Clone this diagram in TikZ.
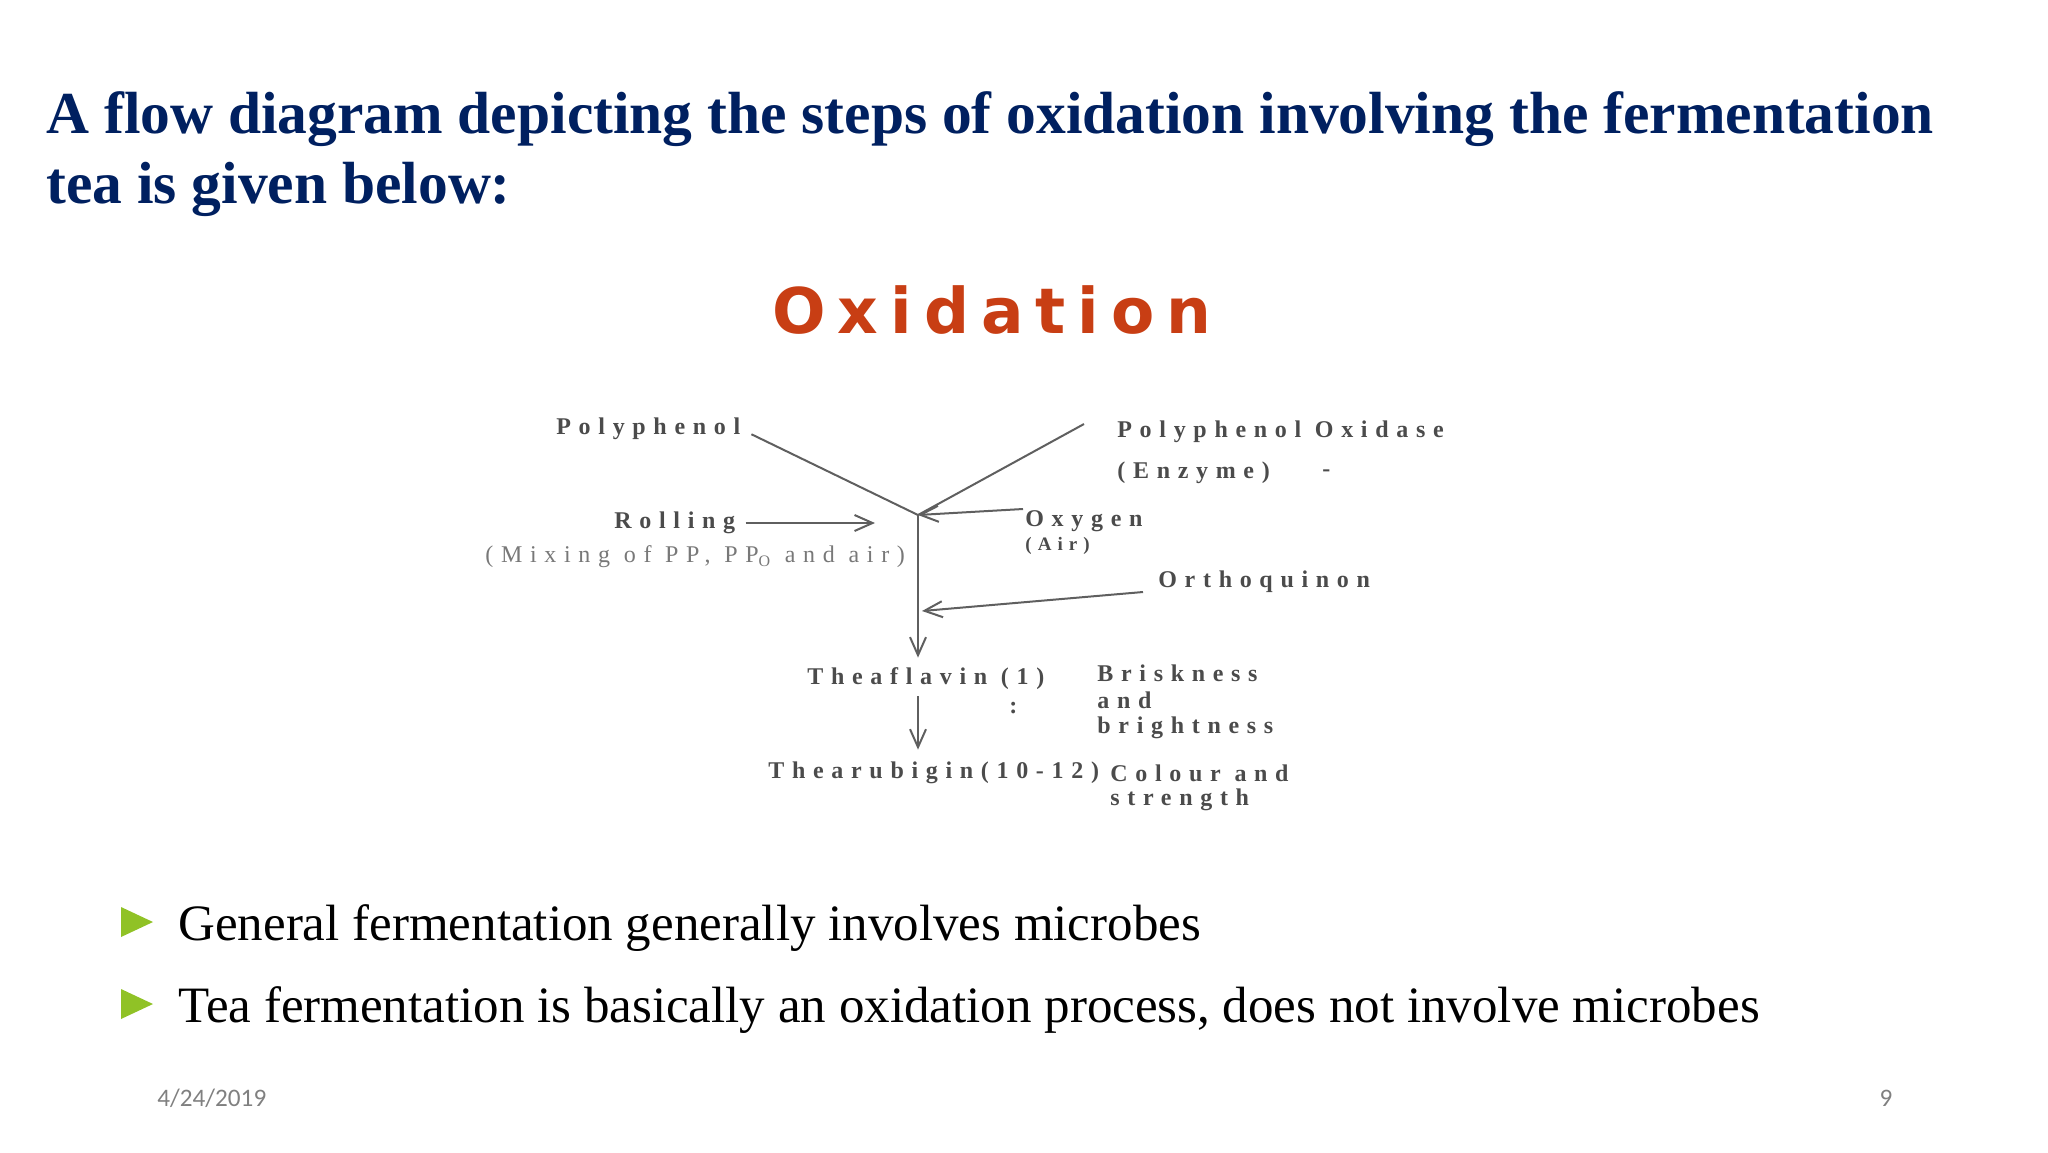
\documentclass[tikz,border=0pt]{standalone}
\usepackage{fontspec}
\setmainfont{Liberation Serif}
\newfontfamily\diagfont[LetterSpace=32]{Liberation Serif}
\newfontfamily\oxfont[LetterSpace=19]{DejaVu Sans}
\newfontfamily\footfont{Carlito}
\usetikzlibrary{arrows.meta,calc}

\definecolor{titleblue}{RGB}{0,32,96}
\definecolor{oxred}{RGB}{200,62,20}
\definecolor{inkgray}{RGB}{75,75,75}
\definecolor{linegray}{RGB}{95,95,95}
\definecolor{bulletgreen}{RGB}{144,194,38}
\definecolor{footgray}{RGB}{128,128,128}

\tikzset{
  lbl/.style={anchor=west, inner sep=0pt, text=inkgray, font=\diagfont\fontsize{12}{14}\bfseries},
  sublbl/.style={anchor=west, inner sep=0pt, text=inkgray!75, font=\diagfont\fontsize{12}{14}\selectfont},
  link/.style={draw=linegray, line width=1pt},
  arr/.style={link, -{Straight Barb[length=9pt,width=8pt]}},
  headline/.style={anchor=base west, inner sep=0pt, text=titleblue, font=\fontsize{29.75}{35}\bfseries},
  bullettxt/.style={anchor=base west, inner sep=0pt, font=\fontsize{25.5}{30}\selectfont},
  foot/.style={inner sep=0pt, text=footgray, font=\footfont\fontsize{12.6}{15}\selectfont},
}

\begin{document}
\begin{tikzpicture}[x=0.5pt, y=-0.5pt]
    \useasboundingbox (0,0) rectangle (2048,1152);

    % heading
    \node[headline] (title1) at (46,133) {A flow diagram depicting the steps of oxidation involving the fermentation};
    \node[headline] (title2) at (46,203) {tea is given below:};

    \node[anchor=base, inner sep=0pt, text=oxred, font=\oxfont\fontsize{31.5}{36}\bfseries] (oxi) at (992,333) {Oxidation};

    % labels
    \node[lbl] (poly) at (556,429) {Polyphenol};
    \node[lbl] (ppo) at (1117,432) {Polyphenol Oxidase};
    \node[lbl] (enz) at (1117,473) {(Enzyme)};
    \node[lbl] (dash) at (1322,473) {-};
    \node[lbl] (roll) at (614,523) {Rolling};
    \node[sublbl] (mix) at (485,557) {(Mixing of PP, PP\textsubscript{O} and air)};
    \node[lbl] (oxy) at (1025,521) {Oxygen};
    \node[lbl, font=\diagfont\fontsize{9.5}{11}\bfseries] (air) at (1025,546) {(Air)};
    \node[lbl] (ortho) at (1158,582) {Orthoquinon};

    \node[lbl] (thf) at (807,679) {Theaflavin (1)};
    \node[lbl] (thr) at (768,773) {Thearubigin(10-12)};
    \node[lbl] (colon) at (1009,708) {:};
    \node[lbl] (brisk) at (1097,673) {Briskness};
    \node[lbl] (and) at (1097,700) {and};
    \node[lbl] (bright) at (1097,728) {brightness};
    \node[lbl] (colour) at (1110,773) {Colour and};
    \node[lbl] (strength) at (1110,800) {strength};

    % meeting point
    \coordinate (J) at (918,515);
    \coordinate (rollTip) at (875,523);
    \coordinate (oqTip) at (922,611);

    \draw[link, shorten <=6pt] (poly.east) -- (J);
    \draw[link] ($(ppo.west)+(-33,-8)$) -- (J);
    \draw[arr] ($(oxy.west)+(-2,-12)$) -- (J);
    \draw[arr, shorten <=5pt] (roll.east) -- (rollTip);
    \draw[arr] ($(ortho.west)+(-15,10)$) -- (oqTip);
    \draw[arr, shorten >=5pt] (J) -- (J |- thf.north);
    \draw[arr, shorten <=3pt, shorten >=6pt] (J |- thf.south) -- (J |- thr.north);

    % bullets
    \fill[bulletgreen] (121,907) -- (153,922) -- (121,937) -- cycle;
    \fill[bulletgreen] (121,989) -- (153,1004) -- (121,1019) -- cycle;
    \node[bullettxt] (pt1) at (178,940) {General fermentation generally involves microbes};
    \node[bullettxt] (pt2) at (178,1022) {Tea fermentation is basically an oxidation process, does not involve microbes};

    % footer
    \node[foot, anchor=west] (date) at (157,1098) {4/24/2019};
    \node[foot] (page) at (1886,1098) {9};
\end{tikzpicture}
\end{document}
